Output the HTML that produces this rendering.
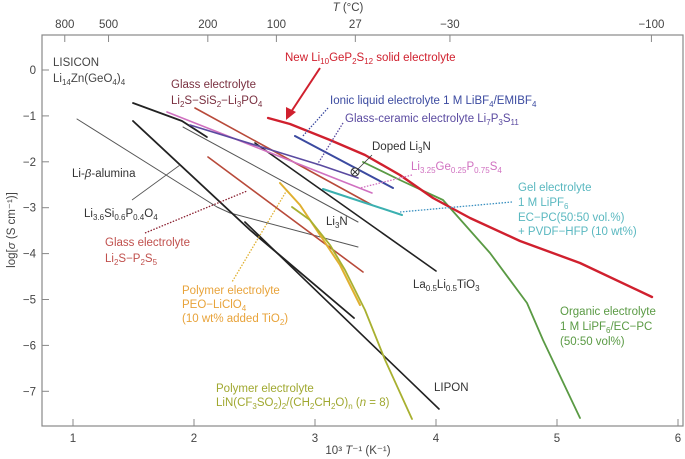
<!DOCTYPE html>
<html><head><meta charset="utf-8">
<style>
html,body{margin:0;padding:0;background:#fff;}
svg{display:block;font-family:"Liberation Sans",sans-serif;}
text{font-size:11.5px;}
</style></head>
<body>
<svg id="chart" width="685" height="459" viewBox="0 0 685 459">
<g id="axes"></g>
<g id="series"></g>
<g id="labels"></g>
</svg>
<script>
const xTicks = [1,2,3,4,5,6];
const yTicks = [0,-1,-2,-3,-4,-5,-6,-7];
const topTicksC = [800,500,200,100,27,-30,-100];

const lgpsX = [2.612,2.793,3.124,3.413,3.702,3.975,4.281,4.694,5.190,5.785];
const lgpsY = [-1.046,-1.176,-1.525,-1.852,-2.288,-2.789,-3.224,-3.725,-4.205,-4.946];
const organicX = [3.397,3.702,4.058,4.446,4.752,4.884,5.190];
const organicY = [-2.004,-2.397,-2.832,-3.987,-5.076,-5.882,-7.582];
const ionicX = [2.835,3.645];
const ionicY = [-1.438,-2.571];
const ceramicX = [1.967,3.041,3.355];
const ceramicY = [-1.198,-2.070,-2.353];
const thioX = [1.777,3.471];
const thioY = [-0.915,-2.680];
const glassSiX = [2.008,3.471];
const glassSiY = [-0.828,-2.941];
const gelX = [3.066,3.719];
const gelY = [-2.593,-3.159];
const dopedX = [3.331];
const dopedY = [-2.222];
const lisiconX = [1.496,1.901,2.107];
const lisiconY = [-0.719,-1.111,-1.460];
const lltoX = [2.504,4.0];
const lltoY = [-1.590,-4.379];
const aluminaX = [1.033,2.190,2.298,3.355];
const aluminaY = [-1.068,-2.985,-3.115,-3.856];
const li3nX = [1.909,3.355];
const li3nY = [-1.242,-3.312];
const lisiX = [1.496,2.463,3.322];
const lisiY = [-1.111,-3.486,-5.403];
const liponX = [2.421,4.025];
const liponY = [-3.312,-7.386];
const glassPX = [2.116,3.397];
const glassPY = [-1.895,-4.401];
const peoX = [2.711,2.876,3.041,3.207,3.372];
const peoY = [-2.462,-2.941,-3.595,-4.248,-5.120];
const tfsiX = [2.810,2.959,3.124,3.248,3.413,3.579,3.802];
const tfsiY = [-2.985,-3.268,-3.813,-4.357,-5.229,-6.318,-7.603];

const NS="http://www.w3.org/2000/svg";
const L=42,R=683,T=35,B=426;
function sx(v){return 73+(v-1)*121;}
function sy(v){return 70-v*45.9;}
function mk(tag,attrs,parent,txt){const e=document.createElementNS(NS,tag);for(const k in attrs)e.setAttribute(k,attrs[k]);if(txt!==undefined)e.textContent=txt;parent.appendChild(e);return e;}
const axes=document.getElementById('axes'),ser=document.getElementById('series'),lab=document.getElementById('labels');
const ac='#888';
let f=mk('rect',{x:L,y:T,width:R-L,height:B-T,fill:'none',stroke:ac,'stroke-width':1.2},axes);


xTicks.forEach(v=>{
 let t=mk('line',{x1:sx(v),x2:sx(v),y1:B,y2:B-7,stroke:ac},axes);
 
 
 let l=mk('text',{x:sx(v),y:B+16,'text-anchor':'middle',fill:'#444'},axes,String(v));
 
 
});
yTicks.forEach(v=>{
 let t=mk('line',{x1:L,x2:L+7,y1:sy(v),y2:sy(v),stroke:ac},axes);
 
 
 let l=mk('text',{x:L-6,y:sy(v)+4,'text-anchor':'end',fill:'#444'},axes,v<0?'\u2212'+(-v):String(v));
 
 
});
topTicksC.forEach(c=>{
 const x=sx(1000/(c+273));
 let t=mk('line',{x1:x,x2:x,y1:T,y2:T+7,stroke:ac},axes);
 
 
 let l=mk('text',{x:x,y:T-7,'text-anchor':'middle',fill:'#444'},axes,c<0?'\u2212'+(-c):String(c));
 
 
});
function line(xs,ys,color,w,name,dash){
 const d=xs.map((x,i)=>(i?'L':'M')+sx(x).toFixed(1)+','+sy(ys[i]).toFixed(1)).join(' ');
 const p=mk('path',{d:d,fill:'none',stroke:color,'stroke-width':w,'stroke-linejoin':'round','stroke-linecap':'round'},ser);
 if(dash)p.setAttribute('stroke-dasharray',dash);
 
 
}
line(aluminaX,aluminaY,'#555',1,'li-beta-alumina-line');
line(li3nX,li3nY,'#555',1,'li3n-line');
line(lisiX,lisiY,'#222',1.8,'li36si-line');
line(liponX,liponY,'#222',1.6,'lipon-line');
line(lltoX,lltoY,'#222',1.6,'llto-line');
line(lisiconX,lisiconY,'#222',1.8,'lisicon-line');
line(glassPX,glassPY,'#b84a3a',1.6,'glass-li2s-p2s5-line');
line(glassSiX,glassSiY,'#b84a3a',1.6,'glass-sis2-line');
line(thioX,thioY,'#d070c0',1.6,'thio-lisicon-line');
line(ceramicX,ceramicY,'#5a4aa0',1.6,'glass-ceramic-line');
line(ionicX,ionicY,'#3b4aa0',2,'ionic-liquid-line');
line(gelX,gelY,'#3bb0b0',2,'gel-line');
line(peoX,peoY,'#e0b030',2,'peo-line');
line(tfsiX,tfsiY,'#a8b030',1.8,'tfsi-polymer-line');
line(organicX,organicY,'#5a9a44',1.8,'organic-line');
line(lgpsX,lgpsY,'#d0202e',2.4,'lgps-line');
dopedX.forEach((x,i)=>{
 const g=mk('g',{},ser);
 
 
 const cx=sx(x),cy=sy(dopedY[i]);
 mk('circle',{cx:cx,cy:cy,r:4,fill:'#fff',stroke:'#333','stroke-width':1},g);
 mk('path',{d:`M${cx-2.8},${cy-2.8}L${cx+2.8},${cy+2.8}M${cx+2.8},${cy-2.8}L${cx-2.8},${cy+2.8}`,stroke:'#333','stroke-width':1},g);
});
</script>
<svg style="position:absolute;left:0;top:0" width="685" height="459">
<g fill="none" stroke-width="1.3" stroke-dasharray="1.5,1.5">
<line x1="328" y1="108" x2="302" y2="137" stroke="#3b4aa0"/>
<line x1="343" y1="123" x2="317" y2="165" stroke="#5a4aa0"/>
<line x1="412" y1="175" x2="360" y2="188" stroke="#d070c0"/>
<line x1="512" y1="202" x2="400" y2="212" stroke="#3a90c0"/>
<line x1="132" y1="200" x2="180" y2="165" stroke="#555" stroke-dasharray="none" stroke-width="0.8"/>
<line x1="145" y1="233" x2="247" y2="191" stroke="#8a2030"/>
<line x1="287" y1="190" x2="232" y2="282" stroke="#e0b030"/>
<line x1="372" y1="155" x2="358" y2="169" stroke="#333" stroke-dasharray="none" stroke-width="0.8"/>
</g>
<line x1="320" y1="68" x2="291" y2="112" stroke="#d0202e" stroke-width="2"/>
<polygon points="286,120 286,107 296,112" fill="#d0202e"/>
<g font-family="Liberation Sans, sans-serif" font-size="11.5">
<text x="358" y="454" text-anchor="middle" fill="#444">10³ <tspan font-style="italic">T</tspan>⁻¹ (K⁻¹)</text>
<text x="348" y="11" text-anchor="middle" fill="#444"><tspan font-style="italic">T</tspan> (°C)</text>
<text transform="translate(15,230) rotate(-90)" text-anchor="middle" fill="#444">log[<tspan font-style="italic">σ</tspan> (S cm⁻¹)]</text>
<text fill="#444"><tspan x="53" y="66">LISICON</tspan><tspan x="53" y="82">Li<tspan font-size="8" dy="3">14</tspan><tspan dy="-3">Zn(GeO</tspan><tspan font-size="8" dy="3">4</tspan><tspan dy="-3">)</tspan><tspan font-size="8" dy="3">4</tspan></tspan></text>
<text fill="#7a3040"><tspan x="171" y="88">Glass electrolyte</tspan><tspan x="171" y="104">Li<tspan font-size="8" dy="3">2</tspan><tspan dy="-3">S−SiS</tspan><tspan font-size="8" dy="3">2</tspan><tspan dy="-3">−Li</tspan><tspan font-size="8" dy="3">3</tspan><tspan dy="-3">PO</tspan><tspan font-size="8" dy="3">4</tspan></tspan></text>
<text x="285" y="61" fill="#d0202e">New Li<tspan font-size="8" dy="3">10</tspan><tspan dy="-3">GeP</tspan><tspan font-size="8" dy="3">2</tspan><tspan dy="-3">S</tspan><tspan font-size="8" dy="3">12</tspan><tspan dy="-3"> solid electrolyte</tspan></text>
<text x="330" y="104" fill="#3b4aa0">Ionic liquid electrolyte 1 M LiBF<tspan font-size="8" dy="3">4</tspan><tspan dy="-3">/EMIBF</tspan><tspan font-size="8" dy="3">4</tspan></text>
<text x="345" y="122" fill="#5a4aa0">Glass-ceramic electrolyte Li<tspan font-size="8" dy="3">7</tspan><tspan dy="-3">P</tspan><tspan font-size="8" dy="3">3</tspan><tspan dy="-3">S</tspan><tspan font-size="8" dy="3">11</tspan></text>
<text x="372" y="150" fill="#333">Doped Li<tspan font-size="8" dy="3">3</tspan><tspan dy="-3">N</tspan></text>
<text x="411" y="170" fill="#d070c0">Li<tspan font-size="8" dy="3">3.25</tspan><tspan dy="-3">Ge</tspan><tspan font-size="8" dy="3">0.25</tspan><tspan dy="-3">P</tspan><tspan font-size="8" dy="3">0.75</tspan><tspan dy="-3">S</tspan><tspan font-size="8" dy="3">4</tspan></text>
<text fill="#5ab8c0"><tspan x="518" y="191">Gel electrolyte</tspan><tspan x="518" y="206">1 M LiPF<tspan font-size="8" dy="3">6</tspan></tspan><tspan x="518" y="221">EC−PC(50:50 vol.%)</tspan><tspan x="518" y="235">+ PVDF−HFP (10 wt%)</tspan></text>
<text x="72" y="177" fill="#333">Li-<tspan font-style="italic">β</tspan>-alumina</text>
<text x="84" y="217" fill="#333">Li<tspan font-size="8" dy="3">3.6</tspan><tspan dy="-3">Si</tspan><tspan font-size="8" dy="3">0.6</tspan><tspan dy="-3">P</tspan><tspan font-size="8" dy="3">0.4</tspan><tspan dy="-3">O</tspan><tspan font-size="8" dy="3">4</tspan></text>
<text x="326" y="225" fill="#333">Li<tspan font-size="8" dy="3">3</tspan><tspan dy="-3">N</tspan></text>
<text fill="#c0504d"><tspan x="105" y="246">Glass electrolyte</tspan><tspan x="105" y="262">Li<tspan font-size="8" dy="3">2</tspan><tspan dy="-3">S−P</tspan><tspan font-size="8" dy="3">2</tspan><tspan dy="-3">S</tspan><tspan font-size="8" dy="3">5</tspan></tspan></text>
<text fill="#e8a33a"><tspan x="182" y="294">Polymer electrolyte</tspan><tspan x="182" y="308">PEO−LiClO<tspan font-size="8" dy="3">4</tspan></tspan><tspan x="182" y="322">(10 wt% added TiO<tspan font-size="8" dy="3">2</tspan><tspan dy="-3">)</tspan></tspan></text>
<text x="413" y="288" fill="#333">La<tspan font-size="8" dy="3">0.5</tspan><tspan dy="-3">Li</tspan><tspan font-size="8" dy="3">0.5</tspan><tspan dy="-3">TiO</tspan><tspan font-size="8" dy="3">3</tspan></text>
<text fill="#5a9a44"><tspan x="560" y="315">Organic electrolyte</tspan><tspan x="560" y="330">1 M LiPF<tspan font-size="8" dy="3">6</tspan><tspan dy="-3">/EC−PC</tspan></tspan><tspan x="560" y="345">(50:50 vol%)</tspan></text>
<text x="434" y="391" fill="#333">LIPON</text>
<text fill="#a0a830"><tspan x="216" y="392">Polymer electrolyte</tspan><tspan x="216" y="406">LiN(CF<tspan font-size="8" dy="3">3</tspan><tspan dy="-3">SO</tspan><tspan font-size="8" dy="3">2</tspan><tspan dy="-3">)</tspan><tspan font-size="8" dy="3">2</tspan><tspan dy="-3">/(CH</tspan><tspan font-size="8" dy="3">2</tspan><tspan dy="-3">CH</tspan><tspan font-size="8" dy="3">2</tspan><tspan dy="-3">O)</tspan><tspan font-size="8" dy="3">n</tspan><tspan dy="-3"> (</tspan><tspan font-style="italic">n</tspan> = 8)</tspan></text>
</g>
</svg>
</body></html>
